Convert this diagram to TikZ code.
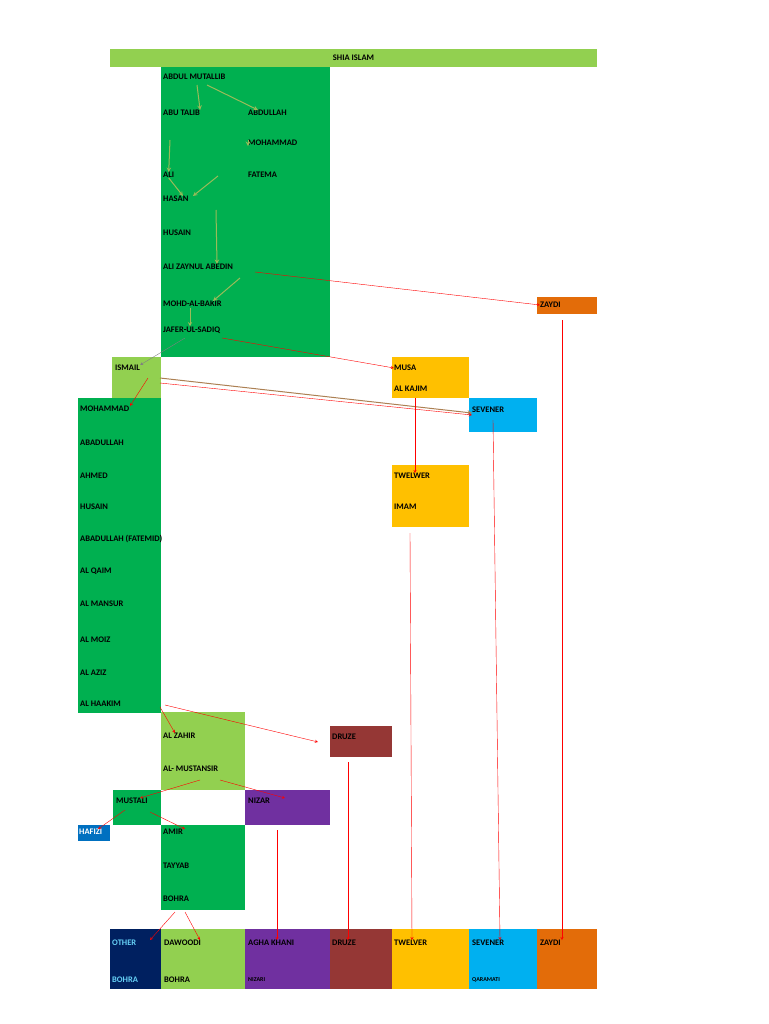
\documentclass[tikz,border=0pt]{standalone}
\usepackage{fontspec}
\setmainfont{Carlito}
\definecolor{lgreen}{HTML}{92D050}
\definecolor{dgreen}{HTML}{00B050}
\definecolor{gold}{HTML}{FFC000}
\definecolor{sky}{HTML}{00B0F0}
\definecolor{rust}{HTML}{E36C09}
\definecolor{wine}{HTML}{953735}
\definecolor{plum}{HTML}{7030A0}
\definecolor{navy}{HTML}{002060}
\definecolor{hblue}{HTML}{0070C0}
\definecolor{olive}{HTML}{9BBB59}
\tikzset{
  lbl/.style={anchor=west, inner sep=0pt, font=\fontsize{8.5}{10}\selectfont\bfseries},
  tiny/.style={anchor=west, inner sep=0pt, font=\fontsize{6}{7}\selectfont\bfseries},
  gar/.style={-stealth, olive, line width=1pt},
  rar/.style={-stealth, red, line width=0.4pt}
}
\begin{document}
\begin{tikzpicture}[x=1pt,y=-1pt]
  \useasboundingbox (0,0) rectangle (768,1024);
  % boxes
  \fill[lgreen] (110,49) rectangle (597,67);
  \fill[dgreen] (161,67) rectangle (330,357);
  \fill[lgreen] (112,357) rectangle (161,398);
  \fill[dgreen] (78,398) rectangle (161,713);
  \fill[lgreen] (161,712) rectangle (245,790);
  \fill[wine] (330,726) rectangle (392,757);
  \fill[dgreen] (113,790) rectangle (161,825);
  \fill[plum] (245,790) rectangle (330,825);
  \fill[dgreen] (161,825) rectangle (245,910);
  \fill[hblue] (78,825) rectangle (110,841);
  \fill[rust] (537,297) rectangle (597,314);
  \fill[gold] (392,357) rectangle (469,398);
  \fill[sky] (469,398) rectangle (537,432);
  \fill[gold] (392,465) rectangle (469,527);
  % bottom row
  \fill[navy] (110,929) rectangle (161,989);
  \fill[lgreen] (161,929) rectangle (245,989);
  \fill[plum] (245,929) rectangle (330,989);
  \fill[wine] (330,929) rectangle (392,989);
  \fill[gold] (392,929) rectangle (469,989);
  \fill[sky] (469,929) rectangle (537,989);
  \fill[rust] (537,929) rectangle (597,989);
  % labels
  \node[lbl, anchor=center] (shia) at (353.5,58) {SHIA ISLAM};
  \node[lbl] (mutallib) at (163,77) {ABDUL MUTALLIB};
  \node[lbl] (abutalib) at (163,113) {ABU TALIB};
  \node[lbl] (abdullah) at (248,113) {ABDULLAH};
  \node[lbl] (mohammad) at (248,143) {MOHAMMAD};
  \node[lbl] (ali) at (163,175) {ALI};
  \node[lbl] (fatema) at (248,175) {FATEMA};
  \node[lbl] (hasan) at (163,199) {HASAN};
  \node[lbl] (husain) at (163,233) {HUSAIN};
  \node[lbl] (zaynul) at (163,267) {ALI ZAYNUL ABEDIN};
  \node[lbl] (bakir) at (163,304) {MOHD-AL-BAKIR};
  \node[lbl] (sadiq) at (163,330) {JAFER-UL-SADIQ};
  \node[lbl] (ismail) at (115,368) {ISMAIL};
  \node[lbl] (imohammad) at (80,409) {MOHAMMAD};
  \node[lbl] (abadullah) at (80,443) {ABADULLAH};
  \node[lbl] (ahmed) at (80,476) {AHMED};
  \node[lbl] (ihusain) at (80,507) {HUSAIN};
  \node[lbl] (fatemid) at (80,539) {ABADULLAH (FATEMID)};
  \node[lbl] (qaim) at (80,571) {AL QAIM};
  \node[lbl] (mansur) at (80,604) {AL MANSUR};
  \node[lbl] (moiz) at (80,640) {AL MOIZ};
  \node[lbl] (aziz) at (80,673) {AL AZIZ};
  \node[lbl] (haakim) at (80,704) {AL HAAKIM};
  \node[lbl] (zahir) at (163,736) {AL ZAHIR};
  \node[lbl] (mustansir) at (163,769) {AL- MUSTANSIR};
  \node[lbl] (druze) at (332,737) {DRUZE};
  \node[lbl] (mustali) at (116,801) {MUSTALI};
  \node[lbl] (nizar) at (248,801) {NIZAR};
  \node[lbl, white] (hafizi) at (79,832) {HAFIZI};
  \node[lbl] (amir) at (163,832) {AMIR};
  \node[lbl] (tayyab) at (163,866) {TAYYAB};
  \node[lbl] (bohra) at (163,899) {BOHRA};
  \node[lbl] (zaydi) at (540,305) {ZAYDI};
  \node[lbl] (musa) at (394,368) {MUSA};
  \node[lbl] (kajim) at (394,389) {AL KAJIM};
  \node[lbl] (sevener) at (472,410) {SEVENER};
  \node[lbl] (twelwer) at (394,476) {TWELWER};
  \node[lbl] (imam) at (394,507) {IMAM};
  \node[lbl, sky!60] (other) at (112,943) {OTHER};
  \node[lbl, sky!60] (obohra) at (112,980) {BOHRA};
  \node[lbl] (dawoodi) at (164,943) {DAWOODI};
  \node[lbl] (dbohra) at (164,980) {BOHRA};
  \node[lbl] (agha) at (248,943) {AGHA KHANI};
  \node[tiny] (nizari) at (248,980) {NIZARI};
  \node[lbl] (bdruze) at (332,943) {DRUZE};
  \node[lbl] (twelver) at (394,943) {TWELVER};
  \node[lbl] (bsevener) at (472,943) {SEVENER};
  \node[tiny] (qaramati) at (472,980) {QARAMATI};
  \node[lbl] (bzaydi) at (540,943) {ZAYDI};
  % lineage arrows
  \draw[gar] (197,85) -- (abutalib.north east);
  \draw[gar] (207,85) -- ([xshift=10pt]abdullah.north west);
  \draw[gar] (170,140) -- (ali.north);
  \draw[gar] (248,140) -- (mohammad.south west);
  \draw[gar] (ali.south) -- ([xshift=20pt]hasan.north west);
  \draw[gar] (fatema.south west) ++(-30pt,2pt) -- ([xshift=30pt]hasan.north west);
  \draw[gar] (216,210) -- ([xshift=54pt]zaynul.north west);
  \draw[gar] (240,278) -- ([xshift=50pt]bakir.north west);
  \draw[gar] (190,308) -- ([xshift=27pt]sadiq.north west);
  \draw[-stealth, gray] (185,338) -- (ismail.north east);
  % branch arrows
  \draw[rar] (255,272) -- (zaydi.west);
  \draw[rar] (222,338) -- (musa.west);
  \draw[rar] (148,378) -- ([xshift=50pt]imohammad.north west);
  \draw[-stealth, brown!70!gray, line width=1pt] (160,378) -- (sevener.south west);
  \draw[rar] (160,383) -- ([yshift=-2pt]sevener.south west);
  \draw[rar] (415,398) -- (twelwer.north -| 415,0);
  \draw[rar] (562,320) -- (bzaydi.north -| 562,0);
  \draw[rar] (493,420) -- ([xshift=28pt]bsevener.north west);
  \draw[rar] (410,533) -- ([xshift=18pt]twelver.north west);
  \draw[rar] (160,707) -- ([xshift=12pt]zahir.north west);
  \draw[rar] (165,705) -- (318,742);
  \draw[rar] (348,762) -- ([xshift=16pt]bdruze.north west);
  \draw[rar] (200,780) -- ([xshift=24pt]mustali.north west);
  \draw[rar] (220,780) -- ([xshift=37pt]nizar.north west);
  \draw[rar] (125,810) -- ([xshift=19pt]hafizi.north west);
  \draw[rar] (150,812) -- ([xshift=22pt]amir.north west);
  \draw[rar] (277,830) -- ([xshift=29pt]agha.north west);
  \draw[rar] (175,912) -- ([xshift=38pt]other.north west);
  \draw[rar] (185,912) -- ([xshift=36pt]dawoodi.north west);
\end{tikzpicture}
\end{document}
